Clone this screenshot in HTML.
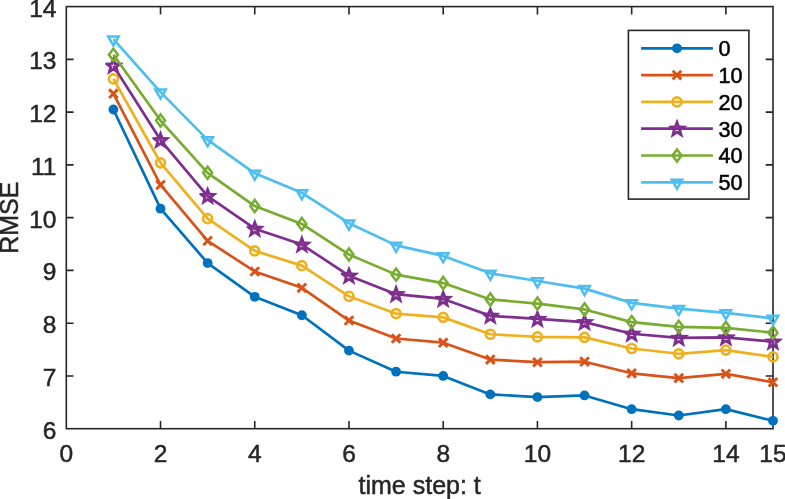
<!DOCTYPE html>
<html><head><meta charset="utf-8"><title>RMSE vs time step</title>
<style>
html,body{margin:0;padding:0;background:#fff;}
body{width:785px;height:499px;overflow:hidden;}
svg text{font-family:"Liberation Sans",Arial,Helvetica,sans-serif;fill:#262626;stroke:#262626;stroke-width:0.5px;}
.tk{font-size:24.5px;}
.lb{font-size:25px;}
.lg{font-size:21.6px;fill:#000;stroke:#000;}
</style></head><body>
<svg width="785" height="499" viewBox="0 0 785 499" style="display:block">
<rect x="0" y="0" width="785" height="499" fill="#fff"/>
<rect x="66.3" y="6.6" width="706.70" height="422.10" fill="none" stroke="#262626" stroke-width="1.6"/>
<text x="66.30" y="462.4" text-anchor="middle" class="tk">0</text>
<path d="M160.53 428.7V420.9M160.53 6.6V14.399999999999999" stroke="#262626" stroke-width="1.6"/>
<text x="160.53" y="462.4" text-anchor="middle" class="tk">2</text>
<path d="M254.75 428.7V420.9M254.75 6.6V14.399999999999999" stroke="#262626" stroke-width="1.6"/>
<text x="254.75" y="462.4" text-anchor="middle" class="tk">4</text>
<path d="M348.98 428.7V420.9M348.98 6.6V14.399999999999999" stroke="#262626" stroke-width="1.6"/>
<text x="348.98" y="462.4" text-anchor="middle" class="tk">6</text>
<path d="M443.21 428.7V420.9M443.21 6.6V14.399999999999999" stroke="#262626" stroke-width="1.6"/>
<text x="443.21" y="462.4" text-anchor="middle" class="tk">8</text>
<path d="M537.43 428.7V420.9M537.43 6.6V14.399999999999999" stroke="#262626" stroke-width="1.6"/>
<text x="537.43" y="462.4" text-anchor="middle" class="tk">10</text>
<path d="M631.66 428.7V420.9M631.66 6.6V14.399999999999999" stroke="#262626" stroke-width="1.6"/>
<text x="631.66" y="462.4" text-anchor="middle" class="tk">12</text>
<path d="M725.89 428.7V420.9M725.89 6.6V14.399999999999999" stroke="#262626" stroke-width="1.6"/>
<text x="725.89" y="462.4" text-anchor="middle" class="tk">14</text>
<text x="773.00" y="462.4" text-anchor="middle" class="tk">15</text>
<text x="56.4" y="438.70" text-anchor="end" class="tk">6</text>
<path d="M66.3 375.94H73.6M773.0 375.94H765.7" stroke="#262626" stroke-width="1.6"/>
<text x="56.4" y="385.94" text-anchor="end" class="tk">7</text>
<path d="M66.3 323.18H73.6M773.0 323.18H765.7" stroke="#262626" stroke-width="1.6"/>
<text x="56.4" y="333.18" text-anchor="end" class="tk">8</text>
<path d="M66.3 270.41H73.6M773.0 270.41H765.7" stroke="#262626" stroke-width="1.6"/>
<text x="56.4" y="280.41" text-anchor="end" class="tk">9</text>
<path d="M66.3 217.65H73.6M773.0 217.65H765.7" stroke="#262626" stroke-width="1.6"/>
<text x="56.4" y="227.65" text-anchor="end" class="tk">10</text>
<path d="M66.3 164.89H73.6M773.0 164.89H765.7" stroke="#262626" stroke-width="1.6"/>
<text x="56.4" y="174.89" text-anchor="end" class="tk">11</text>
<path d="M66.3 112.12H73.6M773.0 112.12H765.7" stroke="#262626" stroke-width="1.6"/>
<text x="56.4" y="122.12" text-anchor="end" class="tk">12</text>
<path d="M66.3 59.36H73.6M773.0 59.36H765.7" stroke="#262626" stroke-width="1.6"/>
<text x="56.4" y="69.36" text-anchor="end" class="tk">13</text>
<text x="56.4" y="16.60" text-anchor="end" class="tk">14</text>
<text x="419.65" y="493.6" text-anchor="middle" class="lb">time step: t</text>
<text transform="translate(18.4,217.65) rotate(-90)" text-anchor="middle" class="lb">RMSE</text>
<polyline points="113.41,109.49 160.53,208.68 207.64,263.03 254.75,296.79 301.87,315.26 348.98,350.61 396.09,371.72 443.21,375.94 490.32,394.40 537.43,397.04 584.55,395.46 631.66,409.18 678.77,415.51 725.89,409.18 773.00,420.79" fill="none" stroke="#0072BD" stroke-width="2.7" stroke-linejoin="round"/>
<circle cx="113.41" cy="109.49" r="4.9" fill="#0072BD"/>
<circle cx="160.53" cy="208.68" r="4.9" fill="#0072BD"/>
<circle cx="207.64" cy="263.03" r="4.9" fill="#0072BD"/>
<circle cx="254.75" cy="296.79" r="4.9" fill="#0072BD"/>
<circle cx="301.87" cy="315.26" r="4.9" fill="#0072BD"/>
<circle cx="348.98" cy="350.61" r="4.9" fill="#0072BD"/>
<circle cx="396.09" cy="371.72" r="4.9" fill="#0072BD"/>
<circle cx="443.21" cy="375.94" r="4.9" fill="#0072BD"/>
<circle cx="490.32" cy="394.40" r="4.9" fill="#0072BD"/>
<circle cx="537.43" cy="397.04" r="4.9" fill="#0072BD"/>
<circle cx="584.55" cy="395.46" r="4.9" fill="#0072BD"/>
<circle cx="631.66" cy="409.18" r="4.9" fill="#0072BD"/>
<circle cx="678.77" cy="415.51" r="4.9" fill="#0072BD"/>
<circle cx="725.89" cy="409.18" r="4.9" fill="#0072BD"/>
<circle cx="773.00" cy="420.79" r="4.9" fill="#0072BD"/>
<polyline points="113.41,93.66 160.53,184.94 207.64,240.87 254.75,271.47 301.87,287.82 348.98,320.54 396.09,338.48 443.21,342.70 490.32,359.58 537.43,362.22 584.55,361.69 631.66,373.30 678.77,378.05 725.89,373.83 773.00,382.27" fill="none" stroke="#D95319" stroke-width="2.7" stroke-linejoin="round"/>
<path d="M109.11 89.36L117.71 97.96M109.11 97.96L117.71 89.36" stroke="#D95319" stroke-width="2.9" fill="none"/>
<path d="M156.23 180.64L164.83 189.24M156.23 189.24L164.83 180.64" stroke="#D95319" stroke-width="2.9" fill="none"/>
<path d="M203.34 236.57L211.94 245.17M203.34 245.17L211.94 236.57" stroke="#D95319" stroke-width="2.9" fill="none"/>
<path d="M250.45 267.17L259.05 275.77M250.45 275.77L259.05 267.17" stroke="#D95319" stroke-width="2.9" fill="none"/>
<path d="M297.57 283.52L306.17 292.12M297.57 292.12L306.17 283.52" stroke="#D95319" stroke-width="2.9" fill="none"/>
<path d="M344.68 316.24L353.28 324.84M344.68 324.84L353.28 316.24" stroke="#D95319" stroke-width="2.9" fill="none"/>
<path d="M391.79 334.18L400.39 342.78M391.79 342.78L400.39 334.18" stroke="#D95319" stroke-width="2.9" fill="none"/>
<path d="M438.91 338.40L447.51 347.00M438.91 347.00L447.51 338.40" stroke="#D95319" stroke-width="2.9" fill="none"/>
<path d="M486.02 355.28L494.62 363.88M486.02 363.88L494.62 355.28" stroke="#D95319" stroke-width="2.9" fill="none"/>
<path d="M533.13 357.92L541.73 366.52M533.13 366.52L541.73 357.92" stroke="#D95319" stroke-width="2.9" fill="none"/>
<path d="M580.25 357.39L588.85 365.99M580.25 365.99L588.85 357.39" stroke="#D95319" stroke-width="2.9" fill="none"/>
<path d="M627.36 369.00L635.96 377.60M627.36 377.60L635.96 369.00" stroke="#D95319" stroke-width="2.9" fill="none"/>
<path d="M674.47 373.75L683.07 382.35M674.47 382.35L683.07 373.75" stroke="#D95319" stroke-width="2.9" fill="none"/>
<path d="M721.59 369.53L730.19 378.13M721.59 378.13L730.19 369.53" stroke="#D95319" stroke-width="2.9" fill="none"/>
<path d="M768.70 377.97L777.30 386.57M768.70 386.57L777.30 377.97" stroke="#D95319" stroke-width="2.9" fill="none"/>
<polyline points="113.41,78.88 160.53,162.78 207.64,218.71 254.75,250.89 301.87,265.66 348.98,296.27 396.09,313.68 443.21,317.37 490.32,334.26 537.43,336.89 584.55,337.42 631.66,348.50 678.77,353.78 725.89,350.08 773.00,356.94" fill="none" stroke="#EDB120" stroke-width="2.7" stroke-linejoin="round"/>
<circle cx="113.41" cy="78.88" r="4.5" fill="none" stroke="#EDB120" stroke-width="2.7"/>
<circle cx="160.53" cy="162.78" r="4.5" fill="none" stroke="#EDB120" stroke-width="2.7"/>
<circle cx="207.64" cy="218.71" r="4.5" fill="none" stroke="#EDB120" stroke-width="2.7"/>
<circle cx="254.75" cy="250.89" r="4.5" fill="none" stroke="#EDB120" stroke-width="2.7"/>
<circle cx="301.87" cy="265.66" r="4.5" fill="none" stroke="#EDB120" stroke-width="2.7"/>
<circle cx="348.98" cy="296.27" r="4.5" fill="none" stroke="#EDB120" stroke-width="2.7"/>
<circle cx="396.09" cy="313.68" r="4.5" fill="none" stroke="#EDB120" stroke-width="2.7"/>
<circle cx="443.21" cy="317.37" r="4.5" fill="none" stroke="#EDB120" stroke-width="2.7"/>
<circle cx="490.32" cy="334.26" r="4.5" fill="none" stroke="#EDB120" stroke-width="2.7"/>
<circle cx="537.43" cy="336.89" r="4.5" fill="none" stroke="#EDB120" stroke-width="2.7"/>
<circle cx="584.55" cy="337.42" r="4.5" fill="none" stroke="#EDB120" stroke-width="2.7"/>
<circle cx="631.66" cy="348.50" r="4.5" fill="none" stroke="#EDB120" stroke-width="2.7"/>
<circle cx="678.77" cy="353.78" r="4.5" fill="none" stroke="#EDB120" stroke-width="2.7"/>
<circle cx="725.89" cy="350.08" r="4.5" fill="none" stroke="#EDB120" stroke-width="2.7"/>
<circle cx="773.00" cy="356.94" r="4.5" fill="none" stroke="#EDB120" stroke-width="2.7"/>
<polyline points="113.41,65.69 160.53,140.09 207.64,196.02 254.75,228.73 301.87,244.56 348.98,275.69 396.09,294.16 443.21,298.90 490.32,315.79 537.43,318.95 584.55,322.12 631.66,333.73 678.77,337.95 725.89,337.42 773.00,341.64" fill="none" stroke="#7E2F8E" stroke-width="2.7" stroke-linejoin="round"/>
<path d="M113.41 55.39L116.08 62.52L123.31 62.84L123.31 63.15L117.73 67.60L119.76 74.93L113.41 70.73L107.07 74.93L109.10 67.60L105.21 64.50L105.21 62.77L110.75 62.52ZM113.41 63.29L114.13 65.21L116.17 65.30L114.57 66.57L115.12 68.54L113.41 67.41L111.71 68.54L112.25 66.57L110.66 65.30L112.70 65.21Z" fill="#7E2F8E" fill-rule="evenodd"/>
<path d="M160.53 129.79L163.19 136.92L170.43 137.24L170.43 137.55L164.84 141.99L166.87 149.33L160.53 145.13L154.18 149.33L156.21 141.99L152.33 138.90L152.33 137.16L157.86 136.92ZM160.53 137.69L161.24 139.60L163.28 139.69L161.69 140.97L162.23 142.94L160.53 141.81L158.82 142.94L159.37 140.97L157.77 139.69L159.81 139.60Z" fill="#7E2F8E" fill-rule="evenodd"/>
<path d="M207.64 185.72L210.31 192.85L217.54 193.16L217.54 193.48L211.95 197.92L213.99 205.25L207.64 201.05L201.29 205.25L203.33 197.92L199.44 194.83L199.44 193.09L204.97 192.85ZM207.64 193.62L208.36 195.53L210.40 195.62L208.80 196.89L209.34 198.86L207.64 197.74L205.94 198.86L206.48 196.89L204.88 195.62L206.92 195.53Z" fill="#7E2F8E" fill-rule="evenodd"/>
<path d="M254.75 218.43L257.42 225.56L264.65 225.88L264.65 226.19L259.07 230.63L261.10 237.97L254.75 233.77L248.41 237.97L250.44 230.63L246.55 227.54L246.55 225.80L252.09 225.56ZM254.75 226.33L255.47 228.24L257.51 228.33L255.91 229.61L256.46 231.58L254.75 230.45L253.05 231.58L253.59 229.61L252.00 228.33L254.04 228.24Z" fill="#7E2F8E" fill-rule="evenodd"/>
<path d="M301.87 234.26L304.53 241.39L311.77 241.71L311.77 242.02L306.18 246.46L308.21 253.80L301.87 249.59L295.52 253.80L297.55 246.46L293.67 243.37L293.67 241.63L299.20 241.39ZM301.87 242.16L302.58 244.07L304.62 244.16L303.03 245.44L303.57 247.41L301.87 246.28L300.16 247.41L300.71 245.44L299.11 244.16L301.15 244.07Z" fill="#7E2F8E" fill-rule="evenodd"/>
<path d="M348.98 265.39L351.65 272.52L358.88 272.84L358.88 273.15L353.29 277.59L355.33 284.93L348.98 280.72L342.63 284.93L344.67 277.59L340.78 274.50L340.78 272.76L346.31 272.52ZM348.98 273.29L349.70 275.20L351.74 275.29L350.14 276.57L350.68 278.53L348.98 277.41L347.28 278.53L347.82 276.57L346.22 275.29L348.26 275.20Z" fill="#7E2F8E" fill-rule="evenodd"/>
<path d="M396.09 283.86L398.76 290.99L405.99 291.30L405.99 291.61L400.41 296.06L402.44 303.39L396.09 299.19L389.75 303.39L391.78 296.06L387.89 292.97L387.89 291.23L393.43 290.99ZM396.09 291.76L396.81 293.67L398.85 293.76L397.25 295.03L397.80 297.00L396.09 295.87L394.39 297.00L394.93 295.03L393.34 293.76L395.38 293.67Z" fill="#7E2F8E" fill-rule="evenodd"/>
<path d="M443.21 288.60L445.87 295.73L453.11 296.05L453.11 296.36L447.52 300.81L449.55 308.14L443.21 303.94L436.86 308.14L438.89 300.81L435.01 297.71L435.01 295.98L440.54 295.73ZM443.21 296.50L443.92 298.42L445.96 298.51L444.37 299.78L444.91 301.75L443.21 300.62L441.50 301.75L442.05 299.78L440.45 298.51L442.49 298.42Z" fill="#7E2F8E" fill-rule="evenodd"/>
<path d="M490.32 305.49L492.99 312.62L500.22 312.93L500.22 313.25L494.63 317.69L496.67 325.03L490.32 320.82L483.97 325.03L486.01 317.69L482.12 314.60L482.12 312.86L487.65 312.62ZM490.32 313.39L491.04 315.30L493.08 315.39L491.48 316.66L492.02 318.63L490.32 317.51L488.62 318.63L489.16 316.66L487.56 315.39L489.60 315.30Z" fill="#7E2F8E" fill-rule="evenodd"/>
<path d="M537.43 308.65L540.10 315.78L547.33 316.10L547.33 316.41L541.75 320.86L543.78 328.19L537.43 323.99L531.09 328.19L533.12 320.86L529.23 317.76L529.23 316.03L534.77 315.78ZM537.43 316.55L538.15 318.47L540.19 318.56L538.59 319.83L539.14 321.80L537.43 320.67L535.73 321.80L536.27 319.83L534.68 318.56L536.72 318.47Z" fill="#7E2F8E" fill-rule="evenodd"/>
<path d="M584.55 311.82L587.21 318.95L594.45 319.27L594.45 319.58L588.86 324.02L590.89 331.36L584.55 327.16L578.20 331.36L580.23 324.02L576.35 320.93L576.35 319.19L581.88 318.95ZM584.55 319.72L585.26 321.63L587.30 321.72L585.71 323.00L586.25 324.97L584.55 323.84L582.84 324.97L583.39 323.00L581.79 321.72L583.83 321.63Z" fill="#7E2F8E" fill-rule="evenodd"/>
<path d="M631.66 323.43L634.33 330.56L641.56 330.87L641.56 331.19L635.97 335.63L638.01 342.96L631.66 338.76L625.31 342.96L627.35 335.63L623.46 332.54L623.46 330.80L628.99 330.56ZM631.66 331.33L632.38 333.24L634.42 333.33L632.82 334.60L633.36 336.57L631.66 335.45L629.96 336.57L630.50 334.60L628.90 333.33L630.94 333.24Z" fill="#7E2F8E" fill-rule="evenodd"/>
<path d="M678.77 327.65L681.44 334.78L688.67 335.09L688.67 335.41L683.09 339.85L685.12 347.19L678.77 342.98L672.43 347.19L674.46 339.85L670.57 336.76L670.57 335.02L676.11 334.78ZM678.77 335.55L679.49 337.46L681.53 337.55L679.93 338.82L680.48 340.79L678.77 339.67L677.07 340.79L677.61 338.82L676.02 337.55L678.06 337.46Z" fill="#7E2F8E" fill-rule="evenodd"/>
<path d="M725.89 327.12L728.55 334.25L735.79 334.57L735.79 334.88L730.20 339.32L732.23 346.66L725.89 342.46L719.54 346.66L721.57 339.32L717.69 336.23L717.69 334.49L723.22 334.25ZM725.89 335.02L726.60 336.94L728.64 337.02L727.05 338.30L727.59 340.27L725.89 339.14L724.18 340.27L724.73 338.30L723.13 337.02L725.17 336.94Z" fill="#7E2F8E" fill-rule="evenodd"/>
<path d="M773.00 331.34L775.67 338.47L782.90 338.79L782.90 339.10L777.31 343.54L779.35 350.88L773.00 346.68L766.65 350.88L768.69 343.54L764.80 340.45L764.80 338.71L770.33 338.47ZM773.00 339.24L773.72 341.16L775.76 341.25L774.16 342.52L774.70 344.49L773.00 343.36L771.30 344.49L771.84 342.52L770.24 341.25L772.28 341.16Z" fill="#7E2F8E" fill-rule="evenodd"/>
<polyline points="113.41,54.72 160.53,120.57 207.64,172.80 254.75,206.04 301.87,223.98 348.98,254.58 396.09,274.63 443.21,283.08 490.32,299.43 537.43,303.65 584.55,309.46 631.66,322.12 678.77,326.87 725.89,327.92 773.00,332.67" fill="none" stroke="#77AC30" stroke-width="2.7" stroke-linejoin="round"/>
<polygon points="113.41,48.62 117.91,54.72 113.41,60.82 108.91,54.72" fill="none" stroke="#77AC30" stroke-width="2.5"/>
<polygon points="160.53,114.47 165.03,120.57 160.53,126.67 156.03,120.57" fill="none" stroke="#77AC30" stroke-width="2.5"/>
<polygon points="207.64,166.70 212.14,172.80 207.64,178.90 203.14,172.80" fill="none" stroke="#77AC30" stroke-width="2.5"/>
<polygon points="254.75,199.94 259.25,206.04 254.75,212.14 250.25,206.04" fill="none" stroke="#77AC30" stroke-width="2.5"/>
<polygon points="301.87,217.88 306.37,223.98 301.87,230.08 297.37,223.98" fill="none" stroke="#77AC30" stroke-width="2.5"/>
<polygon points="348.98,248.48 353.48,254.58 348.98,260.68 344.48,254.58" fill="none" stroke="#77AC30" stroke-width="2.5"/>
<polygon points="396.09,268.53 400.59,274.63 396.09,280.73 391.59,274.63" fill="none" stroke="#77AC30" stroke-width="2.5"/>
<polygon points="443.21,276.98 447.71,283.08 443.21,289.18 438.71,283.08" fill="none" stroke="#77AC30" stroke-width="2.5"/>
<polygon points="490.32,293.33 494.82,299.43 490.32,305.53 485.82,299.43" fill="none" stroke="#77AC30" stroke-width="2.5"/>
<polygon points="537.43,297.55 541.93,303.65 537.43,309.75 532.93,303.65" fill="none" stroke="#77AC30" stroke-width="2.5"/>
<polygon points="584.55,303.36 589.05,309.46 584.55,315.56 580.05,309.46" fill="none" stroke="#77AC30" stroke-width="2.5"/>
<polygon points="631.66,316.02 636.16,322.12 631.66,328.22 627.16,322.12" fill="none" stroke="#77AC30" stroke-width="2.5"/>
<polygon points="678.77,320.77 683.27,326.87 678.77,332.97 674.27,326.87" fill="none" stroke="#77AC30" stroke-width="2.5"/>
<polygon points="725.89,321.82 730.39,327.92 725.89,334.02 721.39,327.92" fill="none" stroke="#77AC30" stroke-width="2.5"/>
<polygon points="773.00,326.57 777.50,332.67 773.00,338.77 768.50,332.67" fill="none" stroke="#77AC30" stroke-width="2.5"/>
<polyline points="113.41,39.05 160.53,92.08 207.64,139.83 254.75,173.33 301.87,192.85 348.98,223.19 396.09,245.35 443.21,255.90 490.32,273.31 537.43,280.96 584.55,288.62 631.66,302.86 678.77,308.67 725.89,312.89 773.00,318.43" fill="none" stroke="#4DBEEE" stroke-width="2.7" stroke-linejoin="round"/>
<polygon points="108.16,36.40 118.66,36.40 113.41,45.49" fill="none" stroke="#4DBEEE" stroke-width="2.5"/>
<polygon points="155.28,89.43 165.78,89.43 160.53,98.52" fill="none" stroke="#4DBEEE" stroke-width="2.5"/>
<polygon points="202.39,137.18 212.89,137.18 207.64,146.27" fill="none" stroke="#4DBEEE" stroke-width="2.5"/>
<polygon points="249.50,170.68 260.00,170.68 254.75,179.77" fill="none" stroke="#4DBEEE" stroke-width="2.5"/>
<polygon points="296.62,190.20 307.12,190.20 301.87,199.29" fill="none" stroke="#4DBEEE" stroke-width="2.5"/>
<polygon points="343.73,220.54 354.23,220.54 348.98,229.63" fill="none" stroke="#4DBEEE" stroke-width="2.5"/>
<polygon points="390.84,242.70 401.34,242.70 396.09,251.79" fill="none" stroke="#4DBEEE" stroke-width="2.5"/>
<polygon points="437.96,253.25 448.46,253.25 443.21,262.35" fill="none" stroke="#4DBEEE" stroke-width="2.5"/>
<polygon points="485.07,270.66 495.57,270.66 490.32,279.76" fill="none" stroke="#4DBEEE" stroke-width="2.5"/>
<polygon points="532.18,278.31 542.68,278.31 537.43,287.41" fill="none" stroke="#4DBEEE" stroke-width="2.5"/>
<polygon points="579.30,285.97 589.80,285.97 584.55,295.06" fill="none" stroke="#4DBEEE" stroke-width="2.5"/>
<polygon points="626.41,300.21 636.91,300.21 631.66,309.30" fill="none" stroke="#4DBEEE" stroke-width="2.5"/>
<polygon points="673.52,306.02 684.02,306.02 678.77,315.11" fill="none" stroke="#4DBEEE" stroke-width="2.5"/>
<polygon points="720.64,310.24 731.14,310.24 725.89,319.33" fill="none" stroke="#4DBEEE" stroke-width="2.5"/>
<polygon points="767.75,315.78 778.25,315.78 773.00,324.87" fill="none" stroke="#4DBEEE" stroke-width="2.5"/>
<rect x="628.4" y="30.4" width="120.50" height="168.70" fill="#fff" stroke="#262626" stroke-width="1.6"/>
<path d="M641.1 48.3H712.9" stroke="#0072BD" stroke-width="2.7"/>
<circle cx="677.00" cy="48.30" r="4.9" fill="#0072BD"/>
<text x="718.6" y="56.10" class="lg">0</text>
<path d="M641.1 75.1H712.9" stroke="#D95319" stroke-width="2.7"/>
<path d="M672.70 70.80L681.30 79.40M672.70 79.40L681.30 70.80" stroke="#D95319" stroke-width="2.9" fill="none"/>
<text x="718.6" y="82.90" class="lg">10</text>
<path d="M641.1 101.9H712.9" stroke="#EDB120" stroke-width="2.7"/>
<circle cx="677.00" cy="101.90" r="4.5" fill="none" stroke="#EDB120" stroke-width="2.7"/>
<text x="718.6" y="109.70" class="lg">20</text>
<path d="M641.1 128.7H712.9" stroke="#7E2F8E" stroke-width="2.7"/>
<path d="M677.00 118.40L679.67 125.53L686.90 125.85L686.90 126.16L681.31 130.60L683.35 137.94L677.00 133.74L670.65 137.94L672.69 130.60L668.80 127.51L668.80 125.77L674.33 125.53ZM677.00 126.30L677.72 128.21L679.76 128.30L678.16 129.58L678.70 131.55L677.00 130.42L675.30 131.55L675.84 129.58L674.24 128.30L676.28 128.21Z" fill="#7E2F8E" fill-rule="evenodd"/>
<text x="718.6" y="136.50" class="lg">30</text>
<path d="M641.1 155.5H712.9" stroke="#77AC30" stroke-width="2.7"/>
<polygon points="677.00,149.40 681.50,155.50 677.00,161.60 672.50,155.50" fill="none" stroke="#77AC30" stroke-width="2.5"/>
<text x="718.6" y="163.30" class="lg">40</text>
<path d="M641.1 182.3H712.9" stroke="#4DBEEE" stroke-width="2.7"/>
<polygon points="671.75,179.65 682.25,179.65 677.00,188.74" fill="none" stroke="#4DBEEE" stroke-width="2.5"/>
<text x="718.6" y="190.10" class="lg">50</text>
</svg>
</body></html>
